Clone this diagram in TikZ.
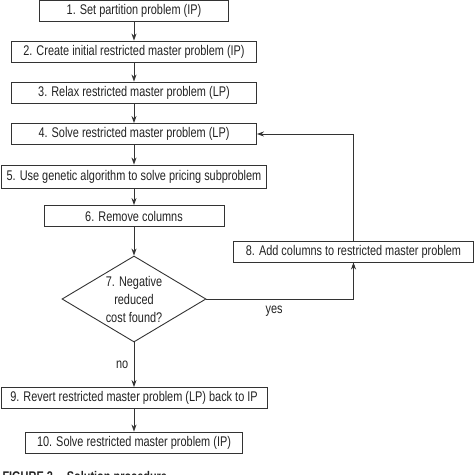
\documentclass[tikz,border=0pt]{standalone}
\usepackage{fontspec}
\setmainfont{Liberation Sans}[FakeStretch=0.78]
\usepackage{tikz}
\usetikzlibrary{arrows.meta, positioning, shapes.geometric}
\definecolor{linegray}{HTML}{333333}
\definecolor{textgray}{HTML}{222222}

\begin{document}
\begin{tikzpicture}[x=1pt, y=-1pt,
    % Base style for the process boxes
    stepbox/.style={draw=linegray, line width=0.9pt, minimum height=21pt, inner sep=0pt,
        font=\fontsize{14}{18}\selectfont, text=textgray, anchor=center},
    % Decision
    decision/.style={diamond, draw=linegray, line width=0.9pt, inner sep=0pt, aspect=1.67,
        minimum width=144pt, minimum height=86pt, align=center,
        font=\fontsize{14}{18}\selectfont, text=textgray},
    % Labels
    edgelabel/.style={font=\fontsize{14}{16}\selectfont, text=textgray},
    mycaption/.style={font=\fontsize{14}{16}\selectfont\bfseries, text=textgray, anchor=base west},
    arrow/.style={-{Stealth[length=7pt, width=5pt]}, draw=linegray, line width=0.8pt}
]
\useasboundingbox (0,0) rectangle (474,475);

% Main column
\node[stepbox, minimum width=189pt] (setp) at (134,11) {1. Set partition problem (IP)};
\node[stepbox, minimum width=245pt] (create) at (134,51.5) {2. Create initial restricted master problem (IP)};
\node[stepbox, minimum width=245pt] (relax) at (134,92.5) {3. Relax restricted master problem (LP)};
\node[stepbox, minimum width=245pt] (solvelp) at (134,134) {4. Solve restricted master problem (LP)};
\node[stepbox, minimum width=265pt, minimum height=23pt] (genetic) at (134,176.5) {5. Use genetic algorithm to solve pricing subproblem};
\node[stepbox, minimum width=180pt] (remove) at (134,216) {6. Remove columns};
\node[decision] (negcost) at (134,299) {7. Negative\\reduced\\cost found?};
\node[stepbox, minimum width=266pt] (revert) at (134,398) {9. Revert restricted master problem (LP) back to IP};
\node[stepbox, minimum width=217pt] (solveip) at (134,442.5) {10. Solve restricted master problem (IP)};

% Loop back
\node[stepbox, minimum width=240pt] (addcol) at (353.5,251.5) {8. Add columns to restricted master problem};

% Caption (cut off at the bottom edge, as in the source)
\node[mycaption] (caption) at (-1,481) {FIGURE 2\quad Solution procedure};

% Straight arrows down the column
\foreach \a/\b in {setp/create, create/relax, relax/solvelp, solvelp/genetic, genetic/remove, remove/negcost, revert/solveip} {
    \draw[arrow] (\a.south) -- (\b.north);
}

% Decision branches
\draw[arrow] (negcost.south) -- node[edgelabel, left=2pt] {no} (revert.north);
\draw[arrow] (negcost.east) -| node[edgelabel, below=3pt, pos=0.23] {yes} (addcol.south);
\draw[arrow] (addcol.north) |- (solvelp.east);

\end{tikzpicture}
\end{document}
